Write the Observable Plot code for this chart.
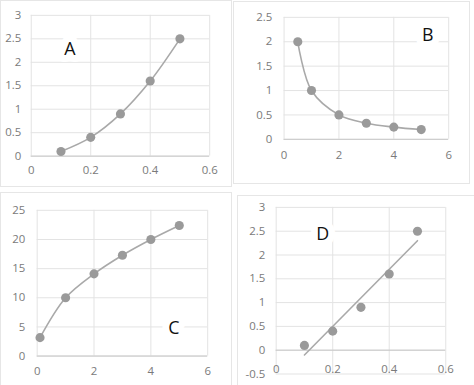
<!DOCTYPE html>
<html>
<head>
<meta charset="utf-8">
<script src="https://cdn.jsdelivr.net/npm/d3@7"></script>
<script src="https://cdn.jsdelivr.net/npm/@observablehq/plot@0.6"></script>
<style>
  html, body { margin: 0; padding: 0; background: #fff; }
  #wrap { position: relative; width: 474px; height: 385px; overflow: hidden; background: #fff; }
  .panel { position: absolute; box-sizing: border-box; border: 1px solid #e6e6e6; }
  .panel svg { position: absolute; left: -1px; top: -1px; overflow: visible; }
</style>
</head>
<body>
<div id="wrap"></div>
<script>
// ---- data ----
const panelLabels = ["A", "B", "C", "D"];

const xA = [0.1, 0.2, 0.3, 0.4, 0.5];
const yA = [0.1, 0.4, 0.9, 1.6, 2.5];

const xB = [0.5, 1, 2, 3, 4, 5];
const yB = [2, 1, 0.5, 0.33, 0.25, 0.2];

const xC = [0.1, 1, 2, 3, 4, 5];
const yC = [3.16, 10, 14.1, 17.3, 20, 22.4];

const xD = [0.1, 0.2, 0.3, 0.4, 0.5];
const yD = [0.1, 0.4, 0.9, 1.6, 2.5];

const xTicksA = [0, 0.2, 0.4, 0.6];
const yTicksA = [0, 0.5, 1, 1.5, 2, 2.5, 3];
const xTicksB = [0, 2, 4, 6];
const yTicksB = [0, 0.5, 1, 1.5, 2, 2.5];
const xTicksC = [0, 2, 4, 6];
const yTicksC = [0, 5, 10, 15, 20, 25];
const xTicksD = [0, 0.2, 0.4, 0.6];
const yTicksD = [-0.5, 0, 0.5, 1, 1.5, 2, 2.5, 3];

// ---- styles ----
const FONT = "'Open Sans', 'Liberation Sans', sans-serif";
const TICK_COLOR = "#7a7a7a";
const TICK_SIZE = 11.5;
const GRID = "#e3e3e3";
const AXIS = "#c6c6c6";
const LINE = "#a9a9a9";
const DOT = "#9a9a9a";

function rows(xs, ys) { return xs.map((x, i) => ({x, y: ys[i]})); }

function panel(cfg) {
  const data = rows(cfg.xs, cfg.ys);
  const xMin = cfg.xTicks[0], xMax = cfg.xTicks[cfg.xTicks.length - 1];
  const yMin = cfg.yTicks[0], yMax = cfg.yTicks[cfg.yTicks.length - 1];
  const fmt = d => String(d);
  const tickRows = cfg.xTicks.map(v => ({v, z: 0}));
  const marks = [
    Plot.ruleY(cfg.yTicks, {stroke: GRID, strokeWidth: 1}),
    Plot.ruleX(cfg.xTicks, {stroke: GRID, strokeWidth: 1}),
    Plot.ruleY([0], {stroke: AXIS, strokeWidth: 1}),
    Plot.axisY(cfg.yTicks, {tickSize: 0, tickPadding: cfg.yPad, tickFormat: fmt, fill: TICK_COLOR, fontSize: TICK_SIZE, label: null}),
  ];
  if (cfg.xAtZero) {
    marks.push(Plot.text(tickRows, {x: "v", y: "z", text: d => String(d.v), dy: cfg.xPad, fill: TICK_COLOR, fontSize: TICK_SIZE}));
  } else {
    marks.push(Plot.axisX(cfg.xTicks, {tickSize: 0, tickPadding: cfg.xPad, tickFormat: fmt, fill: TICK_COLOR, fontSize: TICK_SIZE, label: null}));
  }
  if (cfg.trend) {
    marks.push(Plot.linearRegressionY(data, {x: "x", y: "y", ci: 0, stroke: LINE, strokeWidth: 1.6}));
  } else {
    marks.push(Plot.line(data, {x: "x", y: "y", curve: "catmull-rom", stroke: LINE, strokeWidth: 1.6}));
  }
  marks.push(Plot.dot(data, {x: "x", y: "y", r: 4.6, fill: DOT, stroke: "none"}));
  marks.push(Plot.text([cfg.label], {
    frameAnchor: "top-left", dx: cfg.ldx, dy: cfg.ldy, text: d => d,
    textAnchor: "middle", lineAnchor: "middle",
    fontSize: 18, fill: "#111", stroke: "white", strokeWidth: 14, strokeLinejoin: "round",
    paintOrder: "stroke", fontFamily: FONT
  }));
  const p = Plot.plot({
    width: cfg.w, height: cfg.h,
    marginLeft: cfg.ml, marginRight: cfg.mr, marginTop: cfg.mt, marginBottom: cfg.mb,
    style: {fontFamily: FONT, fontSize: "11px", background: "transparent", overflow: "visible"},
    x: {domain: [xMin, xMax], ticks: cfg.xTicks, label: null, axis: null},
    y: {domain: [yMin, yMax], ticks: cfg.yTicks, label: null, axis: null},
    marks
  });
  const div = document.createElement("div");
  div.className = "panel";
  div.style.left = cfg.left + "px";
  div.style.top = cfg.top + "px";
  div.style.width = cfg.w + "px";
  div.style.height = cfg.h + "px";
  div.appendChild(p);
  document.getElementById("wrap").appendChild(div);
}

panel({label: panelLabels[0], xs: xA, ys: yA, xTicks: xTicksA, yTicks: yTicksA,
  left: 0, top: 0, w: 232, h: 187, ml: 31, mr: 21, mt: 15, mb: 30, xPad: 10, yPad: 10,
  ldx: 39, ldy: 34});

panel({label: panelLabels[1], xs: xB, ys: yB, xTicks: xTicksB, yTicks: yTicksB,
  left: 233, top: 1, w: 237, h: 183, ml: 51, mr: 20, mt: 16, mb: 44, xPad: 12, yPad: 12,
  ldx: 145, ldy: 18});

panel({label: panelLabels[2], xs: xC, ys: yC, xTicks: xTicksC, yTicks: yTicksC,
  left: 0, top: 192, w: 232, h: 194, ml: 37, mr: 23, mt: 18, mb: 29, xPad: 11, yPad: 12,
  ldx: 138, ldy: 119});

panel({label: panelLabels[3], xs: xD, ys: yD, xTicks: xTicksD, yTicks: yTicksD, xAtZero: true, trend: true,
  left: 237, top: 195, w: 238, h: 191, ml: 39, mr: 28, mt: 12, mb: 11, xPad: 19, yPad: 11,
  ldx: 47, ldy: 27});
</script>
</body>
</html>
